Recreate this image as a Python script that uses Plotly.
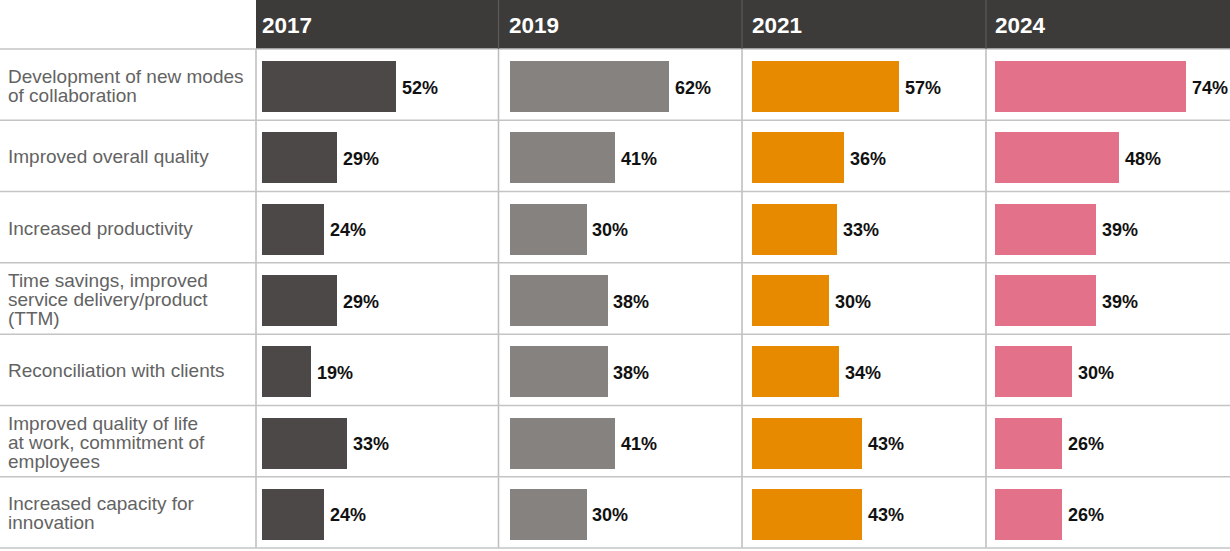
import plotly.graph_objects as go

# ---------------- data ----------------
categories = [
    "Development of new modes<br>of collaboration",
    "Improved overall quality",
    "Increased productivity",
    "Time savings, improved<br>service delivery/product<br>(TTM)",
    "Reconciliation with clients",
    "Improved quality of life<br>at work, commitment of<br>employees",
    "Increased capacity for<br>innovation",
]
years = ["2017", "2019", "2021", "2024"]
values_2017 = [52, 29, 24, 29, 19, 33, 24]
values_2019 = [62, 41, 30, 38, 38, 41, 30]
values_2021 = [57, 36, 33, 30, 34, 43, 43]
values_2024 = [74, 48, 39, 39, 30, 26, 26]
series = [values_2017, values_2019, values_2021, values_2024]
colors = ["#4b4847", "#858280", "#e88a00", "#e3718a"]

# ---------------- layout geometry (pixels) ----------------
W, H = 1230, 551
row_top, row_bot = 49, 548
bar_shift = 2  # bars sit slightly below row centre in the reference
cell_edges = [256, 498.5, 742, 986, 1230]
bar_starts = [262, 509, 751.5, 995]
px_per_unit = 2.58
FONT = "Liberation Sans, Arial, Helvetica, sans-serif"


def py(p):  # pixel y -> paper y
    return 1 - p / H


def px(p):  # pixel x -> paper x
    return p / W


ypos = list(range(len(categories)))

fig = go.Figure()
annotations = []
shapes = []

for k, (yr, vals, col) in enumerate(zip(years, series, colors)):
    xa = "x" if k == 0 else f"x{k + 1}"
    fig.add_trace(go.Bar(
        x=vals, y=ypos, orientation="h", marker=dict(color=col, line=dict(width=0)),
        width=0.715, xaxis=xa, yaxis="y", hoverinfo="x+y", showlegend=False,
    ))
    ax_name = "xaxis" if k == 0 else f"xaxis{k + 1}"
    e0, e1 = cell_edges[k], cell_edges[k + 1]
    b0 = bar_starts[k]
    fig.update_layout({ax_name: dict(
        domain=[px(e0), px(e1)],
        range=[-(b0 - e0) / px_per_unit, (e1 - b0) / px_per_unit],
        visible=False, fixedrange=True, anchor="y",
    )})
    # value labels
    for i, v in enumerate(vals):
        annotations.append(dict(
            x=v, y=i, xref=xa, yref="y", text=f"{v}%", showarrow=False,
            xanchor="left", yanchor="middle", xshift=4, yshift=-1,
            font=dict(family=FONT, size=18, color="#111111", weight="bold"),
        ))
    # year headers
    annotations.append(dict(
        x=px(b0 - 2), y=py(25), xref="paper", yref="paper", text=yr,
        showarrow=False, xanchor="left", yanchor="middle",
        font=dict(family=FONT, size=22.5, color="#ffffff", weight="bold"),
    ))

# category labels (one annotation per line, tight line spacing)
line_gap = 19
for i, cat in enumerate(categories):
    lines = cat.split("<br>")
    n = len(lines)
    for j, ln in enumerate(lines):
        annotations.append(dict(
            x=px(6), y=i, xref="paper", yref="y", text=ln, showarrow=False,
            xanchor="left", yanchor="middle",
            yshift=-(j - (n - 1) / 2) * line_gap + 1,
            font=dict(family=FONT, size=19, color="#636363"),
        ))

# header band
shapes.append(dict(type="rect", xref="paper", yref="paper",
                   x0=px(cell_edges[0]), x1=1, y0=py(row_top), y1=1,
                   fillcolor="#3c3b39", line=dict(width=0), layer="below"))
# header dividers
for e in cell_edges[1:-1]:
    shapes.append(dict(type="line", xref="paper", yref="paper",
                       x0=px(e), x1=px(e), y0=py(row_top), y1=1,
                       line=dict(color="#5c5b59", width=1.2)))
# body vertical lines
for e in cell_edges[:-1]:
    shapes.append(dict(type="line", xref="paper", yref="paper",
                       x0=px(e), x1=px(e), y0=py(row_bot), y1=py(row_top),
                       line=dict(color="#bdbdbd", width=1.5), layer="below"))
# horizontal row lines
n_rows = len(categories)
for r in range(n_rows + 1):
    yy = row_top + (row_bot - row_top) * r / n_rows
    shapes.append(dict(type="line", xref="paper", yref="paper",
                       x0=0, x1=1, y0=py(yy), y1=py(yy),
                       line=dict(color="#c4c4c4", width=1.5), layer="below"))

fig.update_layout(
    width=W, height=H,
    margin=dict(l=0, r=0, t=0, b=0),
    paper_bgcolor="#ffffff", plot_bgcolor="rgba(0,0,0,0)",
    yaxis=dict(domain=[py(row_bot + bar_shift), py(row_top + bar_shift)],
               range=[6.5, -0.5], visible=False, fixedrange=True),
    bargap=0, barmode="overlay",
    annotations=annotations, shapes=shapes,
    showlegend=False,
)

fig.write_html(
    "out.html",
    config={"displayModeBar": False},
    post_script="document.body.style.margin='0';document.body.style.overflow='hidden';",
)
